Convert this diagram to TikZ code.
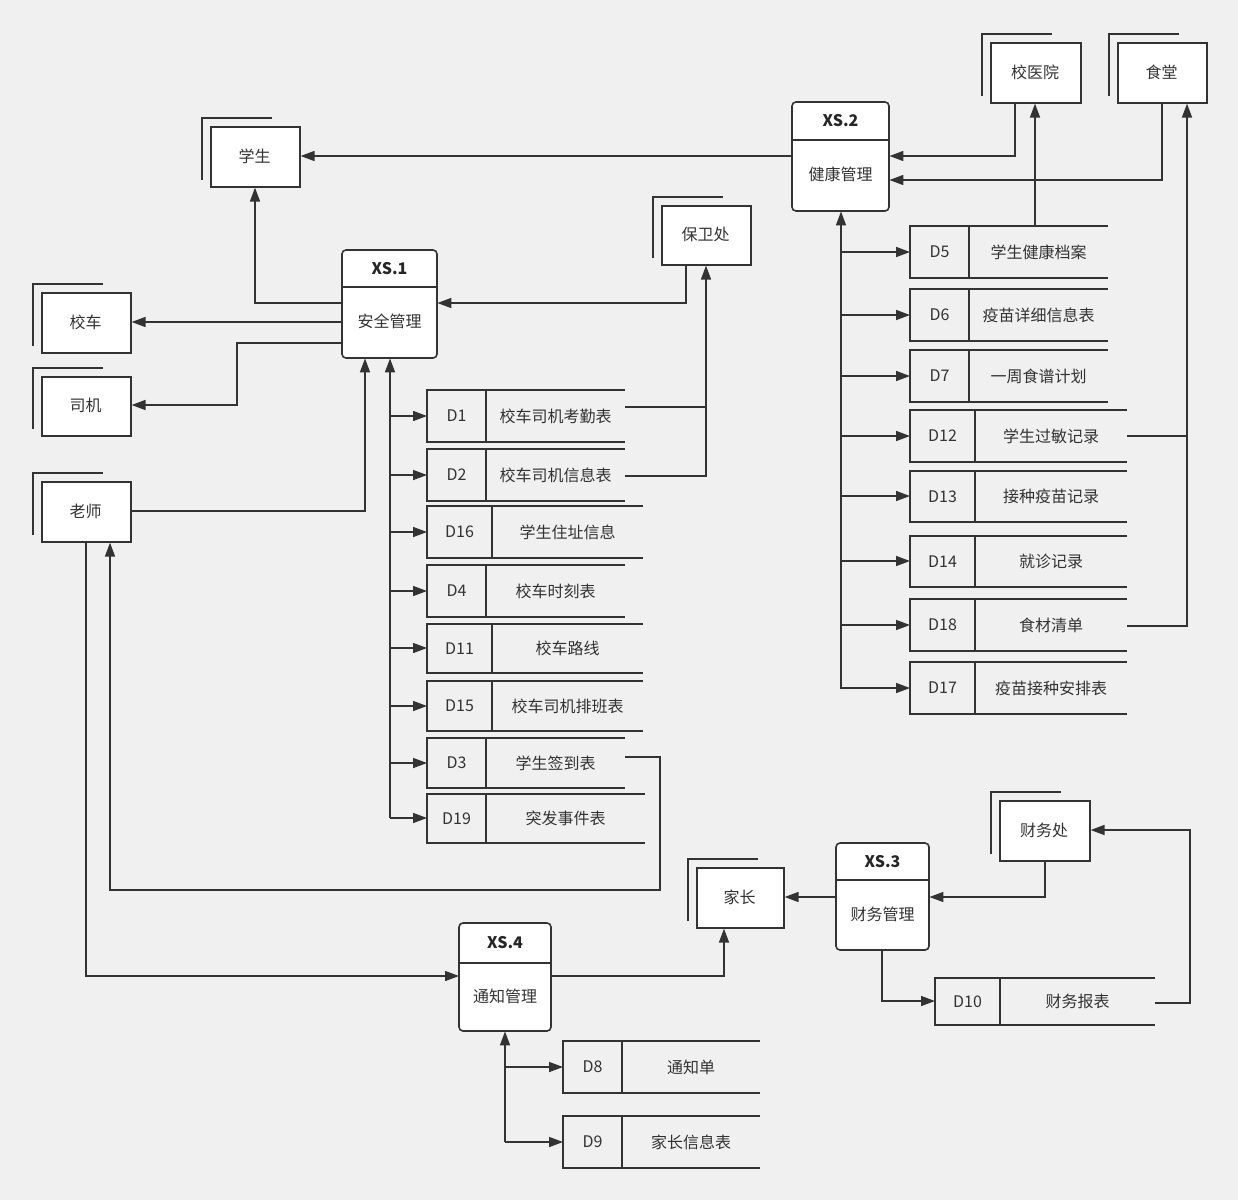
\documentclass[tikz,border=0pt]{standalone}
\usepackage{fontspec}
\setmainfont{Noto Sans CJK SC}
\usetikzlibrary{arrows.meta}
\begin{document}
\begin{tikzpicture}[x=1pt,y=-1pt,
  ln/.style={line width=1.6pt,draw=black!80},
  ar/.style={ln,-{Triangle[length=14pt,width=10pt]}},
  lab/.style={font=\fontsize{16}{16}\selectfont,text=black!80,inner sep=0},
  hd/.style={font=\bfseries\fontsize{16}{16}\selectfont,text=black!85,inner sep=0}]
\fill[black!6] (0,0) rectangle (1238,1200);
\useasboundingbox (0,0) rectangle (1238,1200);
% entity: name, x1,y1,x2,y2,text
\newcommand\ent[6]{%
  \draw[ln] (#2-8,#5-6) -- (#2-8,#3-8) -- (#2+62,#3-8);
  \node[ln,fill=white,minimum width=#4-#2,minimum height=#5-#3,inner sep=0,anchor=north west] (#1) at (#2,#3) {};
  \node[lab] at ({(#2+#4)/2},{(#3+#5)/2}) {#6};}
% process
\newcommand\proc[8]{%
  \draw[ln,fill=white,rounded corners=4pt] (#2,#3) rectangle (#4,#5);
  \draw[ln] (#2,#6) -- (#4,#6);
  \node[inner sep=0,minimum width=#4-#2,minimum height=#5-#3,anchor=north west] (#1) at (#2,#3) {};
  \node[hd] at ({(#2+#4)/2},{(#3+#6)/2}) {#7};
  \node[lab] at ({(#2+#4)/2},{(#6+#5)/2-1}) {#8};}
% store: name,left,div,right,top,bot,id,text
\newcommand\store[8]{%
  \draw[ln] (#4,#5) -- (#2,#5) -- (#2,#6) -- (#4,#6);
  \draw[ln] (#3,#5) -- (#3,#6);
  \node[inner sep=0,minimum width=#4-#2,minimum height=#6-#5,anchor=north west] (#1) at (#2,#5) {};
  \node[lab] at ({(#2+#3)/2},{(#5+#6)/2}) {#7};
  \node[lab] at ({(#3+#4)/2},{(#5+#6)/2}) {#8};}

\ent{xs}{210}{126}{299}{186}{学生}
\ent{xc}{41}{292}{130}{352}{校车}
\ent{sj}{41}{376}{130}{435}{司机}
\ent{ls}{41}{481}{130}{541}{老师}
\ent{bw}{661}{205}{750}{264}{保卫处}
\ent{yy}{990}{42}{1080}{102}{校医院}
\ent{st}{1117}{42}{1206}{102}{食堂}
\ent{jz}{696}{867}{783}{927}{家长}
\ent{cw}{999}{800}{1089}{860}{财务处}

\proc{p1}{342}{250}{437}{358}{287}{XS.1}{安全管理}
\proc{p2}{792}{102}{889}{211}{140}{XS.2}{健康管理}
\proc{p3}{836}{843}{929}{950}{880}{XS.3}{财务管理}
\proc{p4}{459}{923}{551}{1031}{963}{XS.4}{通知管理}

\store{d1}{427}{486}{625}{390}{442}{D1}{校车司机考勤表}
\store{d2}{427}{486}{625}{449}{501}{D2}{校车司机信息表}
\store{d16}{427}{492}{643}{506}{558}{D16}{学生住址信息}
\store{d4}{427}{486}{625}{565}{617}{D4}{校车时刻表}
\store{d11}{427}{492}{643}{624}{673}{D11}{校车路线}
\store{d15}{427}{492}{643}{681}{731}{D15}{校车司机排班表}
\store{d3}{427}{486}{625}{738}{788}{D3}{学生签到表}
\store{d19}{427}{486}{645}{794}{843}{D19}{突发事件表}

\store{d5}{910}{969}{1108}{226}{278}{D5}{学生健康档案}
\store{d6}{910}{969}{1108}{289}{341}{D6}{疫苗详细信息表}
\store{d7}{910}{969}{1108}{350}{402}{D7}{一周食谱计划}
\store{d12}{910}{975}{1127}{410}{462}{D12}{学生过敏记录}
\store{d13}{910}{975}{1127}{471}{522}{D13}{接种疫苗记录}
\store{d14}{910}{975}{1127}{536}{587}{D14}{就诊记录}
\store{d18}{910}{975}{1127}{599}{651}{D18}{食材清单}
\store{d17}{910}{975}{1127}{662}{714}{D17}{疫苗接种安排表}

\store{d10}{935}{1000}{1155}{978}{1025}{D10}{财务报表}
\store{d8}{563}{622}{760}{1041}{1093}{D8}{通知单}
\store{d9}{563}{622}{760}{1116}{1168}{D9}{家长信息表}

% XS.1 links
\draw[ar] (p2.west |- 0,156) -- (xs.east |- 0,156);
\draw[ar] (p1.west |- 0,303) -- (255,303) -- (xs.south -| 255,0);
\draw[ar] (p1.west |- 0,322) -- (xc.east |- 0,322);
\draw[ar] (p1.west |- 0,343) -- (237,343) -- (237,405) -- (sj.east |- 0,405);
\draw[ar] (ls.east |- 0,511) -- (365,511) -- (p1.south -| 365,0);
\draw[ar] (bw.south -| 686,0) -- (686,303) -- (p1.east |- 0,303);
\draw[ln] (d1.east |- 0,407) -- (706,407);
\draw[ar] (d2.east |- 0,476) -- (706,476) -- (bw.south -| 706,0);
\draw[ar] (390,818) -- (p1.south -| 390,0);
\foreach \n/\y in {d1/416,d2/475,d16/532,d4/591,d11/648,d15/706,d3/763,d19/818}
  \draw[ar] (390,\y) -- (\n.west |- 0,\y);
\draw[ar] (d3.east |- 0,757) -- (660,757) -- (660,890) -- (110,890) -- (ls.south -| 110,0);
\draw[ar] (ls.south -| 86,0) -- (86,976) -- (p4.west |- 0,976);
% XS.2 links
\draw[ar] (yy.south -| 1015,0) -- (1015,156) -- (p2.east |- 0,156);
\draw[ar] (st.south -| 1162,0) -- (1162,180) -- (p2.east |- 0,180);
\draw[ar] (d5.north -| 1035,0) -- (yy.south -| 1035,0);
\draw[ar] (d12.east |- 0,436) -- (1187,436) -- (st.south -| 1187,0);
\draw[ln] (d18.east |- 0,626) -- (1187,626) -- (1187,436);
\draw[ar] (841,689) -- (p2.south -| 841,0);
\foreach \n/\y in {d5/252,d6/315,d7/376,d12/436,d13/496,d14/561,d18/625,d17/688}
  \draw[ar] (841,\y) -- (\n.west |- 0,\y);
% XS.3 / XS.4
\draw[ar] (p3.west |- 0,897) -- (jz.east |- 0,897);
\draw[ar] (cw.south -| 1045,0) -- (1045,897) -- (p3.east |- 0,897);
\draw[ar] (p3.south -| 882,0) -- (882,1001) -- (d10.west |- 0,1001);
\draw[ar] (d10.east |- 0,1003) -- (1190,1003) -- (1190,830) -- (cw.east |- 0,830);
\draw[ar] (p4.east |- 0,976) -- (724,976) -- (jz.south -| 724,0);
\draw[ar] (505,1142) -- (p4.south -| 505,0);
\draw[ar] (505,1067) -- (d8.west |- 0,1067);
\draw[ar] (505,1142) -- (d9.west |- 0,1142);
\end{tikzpicture}
\end{document}
